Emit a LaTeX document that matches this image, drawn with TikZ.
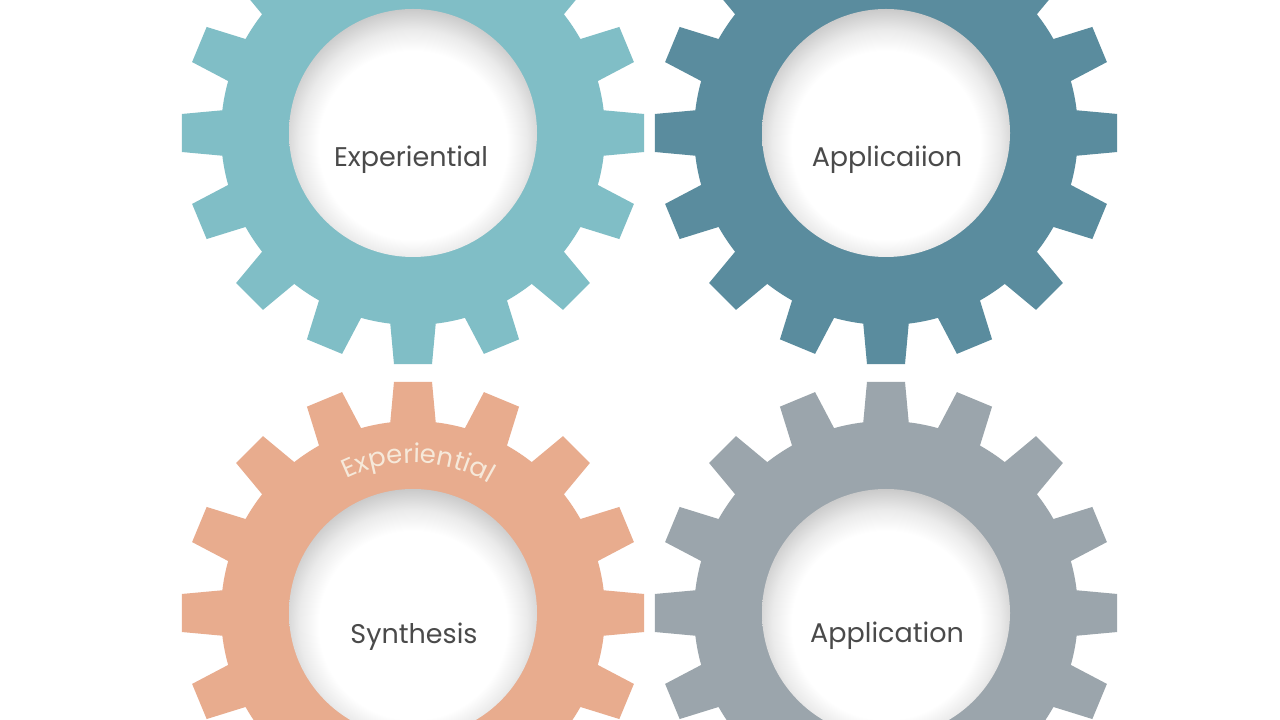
\documentclass[tikz,border=0pt]{standalone}
\usepackage{fontspec}
\setmainfont{Poppins}
\usetikzlibrary{decorations.text}
\definecolor{gearteal}{HTML}{80BEC6}
\definecolor{geardark}{HTML}{5A8C9E}
\definecolor{gearsalmon}{HTML}{E8AC8E}
\definecolor{geargrey}{HTML}{9BA5AC}
\definecolor{textgray}{HTML}{4A4A4A}
\definecolor{curvecol}{HTML}{F6E9DA}
\pgfdeclareradialshading{holeshade}{\pgfpoint{0bp}{-4bp}}{color(0bp)=(white); color(19bp)=(white); color(23bp)=(black!8); color(29bp)=(black!28); color(50bp)=(black!28)}
\newcommand\mygear[3]{%
  \begin{scope}[shift={(#1,#2)}]
    \fill[#3] (-6.8:192) \foreach \a in {0,22.5,...,337.5}{
      -- ({\a-6.8}:192) -- ({\a-4.7}:232) -- ({\a+4.7}:232) -- ({\a+6.8}:192)
      arc[start angle={\a+6.8}, end angle={\a+15.7}, radius=192]} -- cycle;
    \shade[shading=holeshade] (0,0) circle[radius=124];
  \end{scope}}
\tikzset{lbl/.style={font=\fontsize{27}{30}\selectfont, text=textgray, inner sep=0pt, anchor=base}}
\begin{document}
\begin{tikzpicture}[x=1pt,y=1pt]
\useasboundingbox (0,0) rectangle (1280,720);
\clip (0,0) rectangle (1280,720);
\fill[white] (0,0) rectangle (1280,720);
\mygear{413}{587}{gearteal}
\mygear{886}{587}{geardark}
\mygear{413}{107}{gearsalmon}
\mygear{886}{107}{geargrey}
\node[lbl] (t1) at (411,553) {Experiential};
\node[lbl] (t2) at (887,553) {Applicaiion};
\node[lbl] (t3) at (414,76) {Synthesis};
\node[lbl] (t4) at (887,77) {Application};
\begin{scope}[shift={(413,107)}]
\path[decorate, decoration={text along path, text align=center,
  text={|\fontsize{26}{28}\selectfont\color{curvecol}|Experiential}}]
  (121:150) arc[start angle=121, end angle=55, radius=150];
\end{scope}
\end{tikzpicture}
\end{document}
